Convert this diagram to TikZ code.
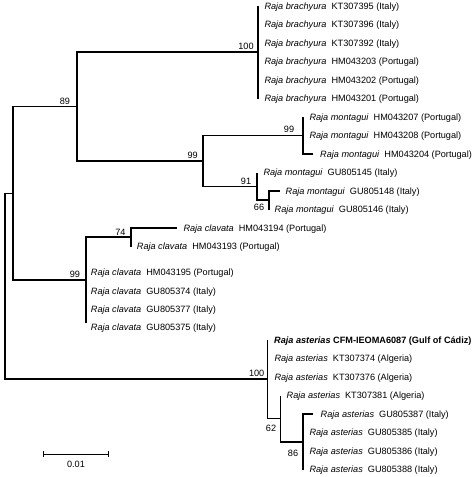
\documentclass[tikz,border=0pt]{standalone}
\usepackage{fontspec}
\setmainfont{Liberation Sans}
\newcommand{\rleaf}[2]{\textit{#1}\hspace{0.55em}#2}
\begin{document}
\begin{tikzpicture}[x=1pt,y=-1pt,
  branch/.style={line width=1.7pt, line join=miter},
  thinbranch/.style={line width=1.1pt, line join=miter},
  every node/.style={font=\fontsize{9.15}{11}\selectfont, inner sep=0pt, text=black},
  leaf/.style={anchor=base west},
  boot/.style={anchor=base},
  scalebar/.style={line width=0.9pt}]
\useasboundingbox (0,0) rectangle (474,477);

% internal nodes
\coordinate (root) at (5,286.3);
\coordinate (nA) at (12.7,193.3);
\coordinate (n89) at (76.7,106.6);
\coordinate (nBra) at (258.3,52.25);
\coordinate (nMon) at (203.3,160.95);
\coordinate (nMonPT) at (303.3,135.5);
\coordinate (n91) at (257.3,186.4);
\coordinate (n66) at (268.7,200.25);
\coordinate (nCla) at (86,280);
\coordinate (n74) at (131,237.25);
\coordinate (nAst) at (267.5,379.3);
\coordinate (n62) at (280.5,418.6);
\coordinate (n86) at (303.3,441.75);

% leaf tips
\coordinate (tb1) at (258.3,6);
\coordinate (tb2) at (258.3,24.5);
\coordinate (tb3) at (258.3,43);
\coordinate (tb4) at (258.3,61.5);
\coordinate (tb5) at (258.3,80);
\coordinate (tb6) at (258.3,98.5);
\coordinate (tm1) at (303.3,117);
\coordinate (tm2) at (303.3,135.5);
\coordinate (tm3) at (313.3,154);
\coordinate (tm4) at (257.3,172.5);
\coordinate (tm5) at (280,191);
\coordinate (tm6) at (268.7,209.5);
\coordinate (tc1) at (177.3,228);
\coordinate (tc2) at (131,246.5);
\coordinate (tc3) at (86,272.3);
\coordinate (tc4) at (86,290.7);
\coordinate (tc5) at (86,309);
\coordinate (tc6) at (86,322.5);
\coordinate (ta1) at (267.5,340);
\coordinate (ta2) at (267.5,358.5);
\coordinate (ta3) at (267.5,377);
\coordinate (ta4) at (280.5,395.5);
\coordinate (ta5) at (313.3,414);
\coordinate (ta6) at (303.3,432.5);
\coordinate (ta7) at (303.3,451);
\coordinate (ta8) at (303.3,469.5);

% branches
\draw[thinbranch] (root) |- (nA);
\draw[branch] (root) |- (nAst);
\draw[branch] (nA) |- (n89);
\draw[branch] (nA) |- (nCla);
\draw[branch] (n89) |- (nBra);
\draw[branch] (n89) |- (nMon);
\foreach \t in {tb1,tb2,tb3,tb4,tb5,tb6} \draw[branch] (nBra) |- (\t);
\draw[branch] (nMon) |- (nMonPT);
\draw[branch] (nMon) |- (n91);
\foreach \t in {tm1,tm2,tm3} \draw[branch] (nMonPT) |- (\t);
\draw[branch] (n91) |- (tm4);
\draw[branch] (n91) |- (n66);
\draw[branch] (n66) |- (tm5);
\draw[branch] (n66) |- (tm6);
\draw[branch] (nCla) |- (n74);
\foreach \t in {tc3,tc4,tc5,tc6} \draw[branch] (nCla) |- (\t);
\draw[branch] (n74) |- (tc1);
\draw[branch] (n74) |- (tc2);
\foreach \t in {ta1,ta2,ta3} \draw[branch] (nAst) |- (\t);
\draw[branch] (nAst) |- (n62);
\draw[branch] (n62) |- (ta4);
\draw[branch] (n62) |- (n86);
\foreach \t in {ta5,ta6,ta7,ta8} \draw[branch] (n86) |- (\t);

% leaf labels
\node[leaf] (lb1) at (264.3,9.3) {\rleaf{Raja brachyura}{KT307395 (Italy)}};
\node[leaf] (lb2) at (264.3,27.8) {\rleaf{Raja brachyura}{KT307396 (Italy)}};
\node[leaf] (lb3) at (264.3,46.3) {\rleaf{Raja brachyura}{KT307392 (Italy)}};
\node[leaf] (lb4) at (264.3,64.8) {\rleaf{Raja brachyura}{HM043203 (Portugal)}};
\node[leaf] (lb5) at (264.3,83.3) {\rleaf{Raja brachyura}{HM043202 (Portugal)}};
\node[leaf] (lb6) at (264.3,101.8) {\rleaf{Raja brachyura}{HM043201 (Portugal)}};
\node[leaf] (lm1) at (309.3,120.3) {\rleaf{Raja montagui}{HM043207 (Portugal)}};
\node[leaf] (lm2) at (309.3,138.8) {\rleaf{Raja montagui}{HM043208 (Portugal)}};
\node[leaf] (lm3) at (320,157.3) {\rleaf{Raja montagui}{HM043204 (Portugal)}};
\node[leaf] (lm4) at (263.3,175.8) {\rleaf{Raja montagui}{GU805145 (Italy)}};
\node[leaf] (lm5) at (285.5,194.3) {\rleaf{Raja montagui}{GU805148 (Italy)}};
\node[leaf] (lm6) at (274.5,212.8) {\rleaf{Raja montagui}{GU805146 (Italy)}};
\node[leaf] (lc1) at (183.3,231.3) {\rleaf{Raja clavata}{HM043194 (Portugal)}};
\node[leaf] (lc2) at (136.7,249.8) {\rleaf{Raja clavata}{HM043193 (Portugal)}};
\node[leaf] (lc3) at (90.7,275.6) {\rleaf{Raja clavata}{HM043195 (Portugal)}};
\node[leaf] (lc4) at (90.7,294) {\rleaf{Raja clavata}{GU805374 (Italy)}};
\node[leaf] (lc5) at (90.7,312.3) {\rleaf{Raja clavata}{GU805377 (Italy)}};
\node[leaf] (lc6) at (90.7,330.6) {\rleaf{Raja clavata}{GU805375 (Italy)}};
\node[leaf] (la1) at (274,343.3) {\textbf{\textit{Raja asterias} CFM-IEOMA6087 (Gulf of Cádiz)}};
\node[leaf] (la2) at (274.3,361.8) {\rleaf{Raja asterias}{KT307374 (Algeria)}};
\node[leaf] (la3) at (274.3,380.3) {\rleaf{Raja asterias}{KT307376 (Algeria)}};
\node[leaf] (la4) at (286.5,398.8) {\rleaf{Raja asterias}{KT307381 (Algeria)}};
\node[leaf] (la5) at (320.5,417.3) {\rleaf{Raja asterias}{GU805387 (Italy)}};
\node[leaf] (la6) at (309.3,435.8) {\rleaf{Raja asterias}{GU805385 (Italy)}};
\node[leaf] (la7) at (309.3,454.3) {\rleaf{Raja asterias}{GU805386 (Italy)}};
\node[leaf] (la8) at (309.3,472.8) {\rleaf{Raja asterias}{GU805388 (Italy)}};

% bootstrap values
\node[boot] (bBra) at (246,49) {100};
\node[boot] (b89) at (65,104) {89};
\node[boot] (bMonPT) at (289,132.8) {99};
\node[boot] (bMon) at (192.7,158.3) {99};
\node[boot] (b91) at (246,184.3) {91};
\node[boot] (b66) at (259,210.6) {66};
\node[boot] (b74) at (120.5,235) {74};
\node[boot] (bCla) at (75,277.3) {99};
\node[boot] (bAst) at (256.7,376) {100};
\node[boot] (b62) at (271,431.8) {62};
\node[boot] (b86) at (293,456.8) {86};

% scale bar
\coordinate (sL) at (43.3,454);
\coordinate (sR) at (108.3,454);
\draw[scalebar] (sL) -- (sR);
\draw[scalebar] ([yshift=-2.7pt]sL) -- ([yshift=2.7pt]sL);
\draw[scalebar] ([yshift=-2.7pt]sR) -- ([yshift=2.7pt]sR);
\node[boot] (sLab) at (76,467.8) {0.01};
\end{tikzpicture}
\end{document}
